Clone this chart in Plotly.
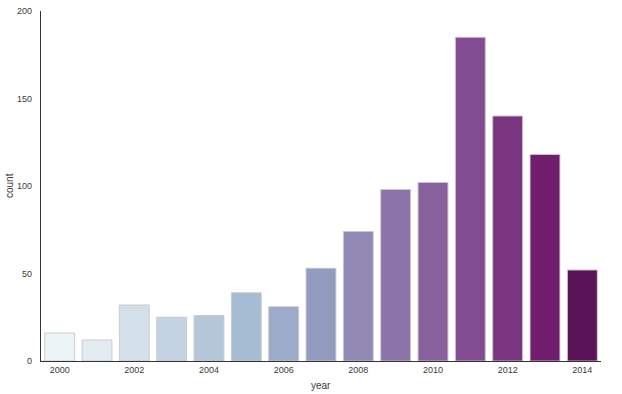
import colorsys
import plotly.graph_objects as go

years = list(range(2000, 2015))
counts = [16, 12, 32, 25, 26, 39, 31, 53, 74, 98, 102, 185, 140, 118, 52]
y_ticks = [0, 50, 100, 150, 200]
x_ticks = [2000, 2002, 2004, 2006, 2008, 2010, 2012, 2014]

# ColorBrewer BuPu anchors (matplotlib's BuPu), sampled like seaborn, desaturated 0.75
bupu = ["#f7fcfd", "#e0ecf4", "#bfd3e6", "#9ebcda", "#8c96c6",
        "#8c6bb1", "#88419d", "#810f7c", "#4d004b"]


def hex2rgb(h):
    return [int(h[i:i + 2], 16) / 255 for i in (1, 3, 5)]


def sample(t):
    pos = t * (len(bupu) - 1)
    i = min(int(pos), len(bupu) - 2)
    f = pos - i
    a, b = hex2rgb(bupu[i]), hex2rgb(bupu[i + 1])
    return [a[k] + (b[k] - a[k]) * f for k in range(3)]


n = len(years)
colors = []
for j in range(n):
    t = (j + 1) / (n + 1)
    r, g, b = sample(t)
    h, l, s = colorsys.rgb_to_hls(r, g, b)
    r, g, b = colorsys.hls_to_rgb(h, l, s * 0.75)
    colors.append("rgb(%d,%d,%d)" % (round(r * 255), round(g * 255), round(b * 255)))

fig = go.Figure(go.Bar(
    x=years, y=counts, width=0.8,
    marker=dict(color=colors, line=dict(color="rgba(200,200,200,0.9)", width=1)),
))

font = "Liberation Sans, Arial, sans-serif"
txt = "#3a3a3a"
fig.update_layout(
    width=622, height=394,
    margin=dict(l=41, r=21, t=11, b=33),
    paper_bgcolor="white", plot_bgcolor="white",
    showlegend=False,
    font=dict(family=font, size=9, color=txt),
    xaxis=dict(
        range=[1999.5, 2014.5], tickvals=x_ticks, ticktext=[str(v) for v in x_ticks],
        showgrid=False, zeroline=False, showline=True, linecolor="#333333", linewidth=1.3,
        ticks="", ticklabelstandoff=0, automargin=False,
    ),
    yaxis=dict(
        range=[0, 200], tickvals=y_ticks,
        showgrid=False, zeroline=False, showline=True, linecolor="#333333", linewidth=1.3,
        ticks="", ticklabelstandoff=6, automargin=False,
    ),
    annotations=[
        dict(text="year", xref="paper", yref="paper", x=0.5, y=0,
             xanchor="center", yanchor="middle", yshift=-24, showarrow=False,
             font=dict(size=10, color=txt)),
        dict(text="count", xref="paper", yref="paper", x=0, y=0.5,
             xanchor="center", yanchor="middle", xshift=-32, textangle=-90,
             showarrow=False, font=dict(size=10, color=txt)),
    ],
)

fig.write_html("out.html", config={"displayModeBar": False},
               post_script="document.body.style.margin='0';")
